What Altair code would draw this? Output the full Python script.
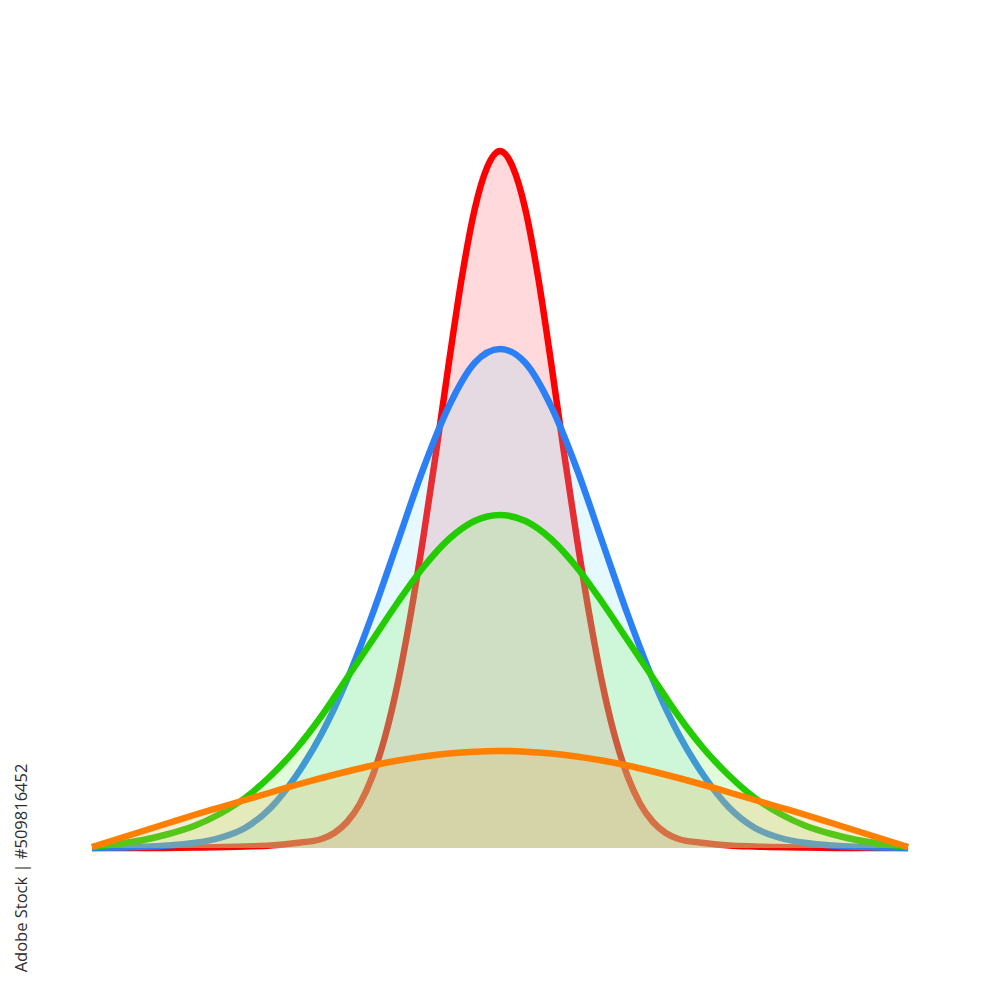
import altair as alt
import pandas as pd

# x positions (in units of the symmetric axis, -4 .. 4)
red_x = [-4, -3.5, -3, -2.5, -2.25, -2, -1.75, -1.625, -1.5, -1.375, -1.25, -1.125, -1, -0.875, -0.75, -0.625,
         -0.5, -0.375, -0.25, -0.125,
         0,
         0.125, 0.25, 0.375, 0.5, 0.625, 0.75, 0.875, 1, 1.125, 1.25, 1.375, 1.5, 1.625, 1.75, 2, 2.25, 2.5,
         3, 3.5, 4]
red_y = [0, 0, 0.005, 0.015, 0.025, 0.05, 0.09, 0.15, 0.26, 0.44, 0.72, 1.12, 1.66, 2.34, 3.12, 3.97,
         4.86, 5.70, 6.38, 6.81,
         6.97,
         6.81, 6.38, 5.70, 4.86, 3.97, 3.12, 2.34, 1.66, 1.12, 0.72, 0.44, 0.26, 0.15, 0.09, 0.05, 0.025, 0.015,
         0.005, 0, 0]

grid_x = [-4, -3.75, -3.5, -3.25, -3, -2.75, -2.5, -2.25, -2, -1.75, -1.5, -1.25, -1, -0.75, -0.5, -0.25,
          0,
          0.25, 0.5, 0.75, 1, 1.25, 1.5, 1.75, 2, 2.25, 2.5, 2.75, 3, 3.25, 3.5, 3.75, 4]

blue_y = [0, 0.005, 0.012, 0.025, 0.05, 0.10, 0.20, 0.40, 0.72, 1.14, 1.68, 2.34, 3.07, 3.80, 4.42, 4.85,
          4.99,
          4.85, 4.42, 3.80, 3.07, 2.34, 1.68, 1.14, 0.72, 0.40, 0.20, 0.10, 0.05, 0.025, 0.012, 0.005, 0]

green_y = [0.01, 0.04, 0.08, 0.14, 0.22, 0.34, 0.50, 0.72, 0.99, 1.32, 1.70, 2.08, 2.46, 2.81, 3.09, 3.27,
           3.33,
           3.27, 3.09, 2.81, 2.46, 2.08, 1.70, 1.32, 0.99, 0.72, 0.50, 0.34, 0.22, 0.14, 0.08, 0.04, 0.01]

orange_y = [0.01, 0.09, 0.17, 0.25, 0.33, 0.405, 0.48, 0.555, 0.63, 0.70, 0.765, 0.825, 0.875, 0.915, 0.945,
            0.963,
            0.97,
            0.963, 0.945, 0.915, 0.875, 0.825, 0.765, 0.70, 0.63, 0.555, 0.48, 0.405, 0.33, 0.25, 0.17, 0.09,
            0.01]

watermark = "Adobe Stock | #509816452"

series = [
    ("red", red_x, red_y, "#ff0000", "#ff1e28", 0.17),
    ("blue", grid_x, blue_y, "#2b80f6", "#80e0ff", 0.20),
    ("green", grid_x, green_y, "#22cc00", "#80f360", 0.23),
    ("orange", grid_x, orange_y, "#ff8000", "#ebb55e", 0.26),
]

xs = alt.Scale(domain=[-4, 4], nice=False, zero=False)
ys = alt.Scale(domain=[0, 7], nice=False, zero=True)

layers = []
for name, sx, sy, line_color, fill_color, fill_op in series:
    df = pd.DataFrame({"x": sx, "y": sy})
    base = alt.Chart(df).encode(
        x=alt.X("x:Q", scale=xs, axis=None),
        y=alt.Y("y:Q", scale=ys, axis=None),
    )
    layers.append(base.mark_area(color=fill_color, fillOpacity=fill_op, interpolate="monotone"))
    layers.append(base.mark_line(color=line_color, strokeWidth=6.5, interpolate="monotone"))

text = alt.Chart(pd.DataFrame({"t": [watermark]})).mark_text(
    angle=270, fontSize=16.5, font="Open Sans", color="#2e2e2e", baseline="middle", align="center"
).encode(text="t:N", x=alt.value(-70), y=alt.value(720))
layers.append(text)

chart = alt.layer(*layers).properties(
    width=816, height=700,
    padding={"left": 84, "top": 140, "right": 84, "bottom": 144},
    autosize=alt.AutoSizeParams(type="none"),
    background="white",
).configure_view(stroke=None)

chart.save("out.html", embed_options={"renderer": "svg", "actions": False})
